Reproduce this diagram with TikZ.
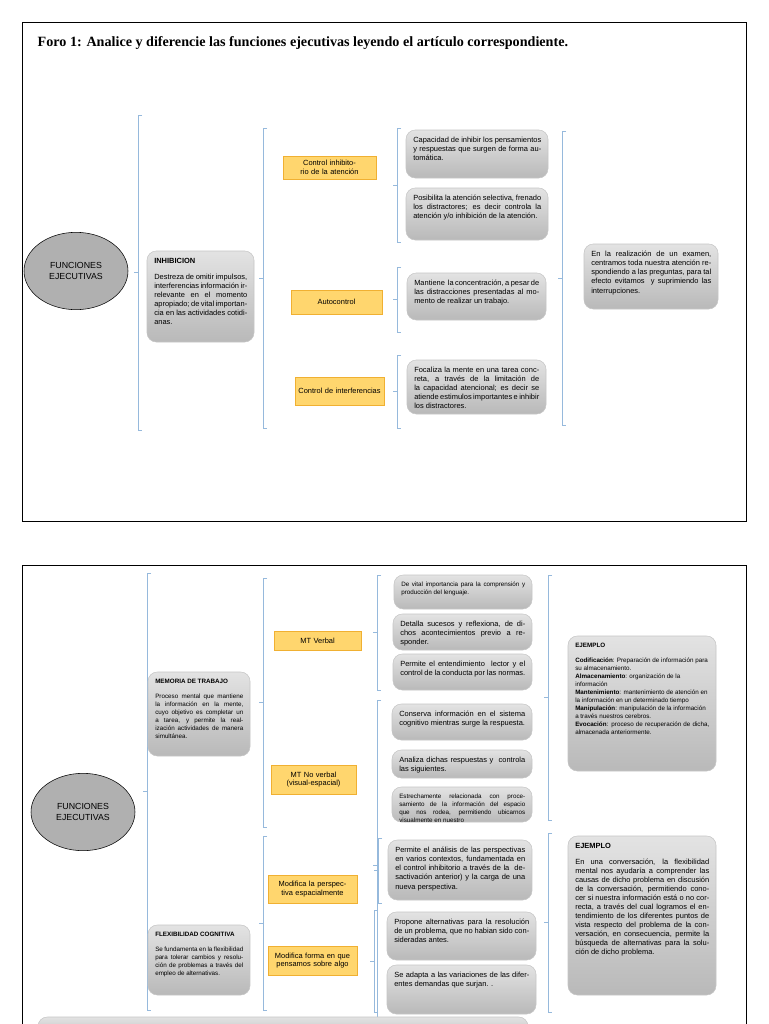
\documentclass[tikz,border=0pt]{standalone}
\usepackage{fontspec}
\setmainfont{Liberation Sans}
\newfontfamily\titlefont{Liberation Serif}
\usetikzlibrary{shapes.geometric}
\definecolor{ybox}{RGB}{255,214,110}
\definecolor{yedge}{RGB}{240,176,50}
\definecolor{brk}{RGB}{150,185,220}
\tikzset{
 gb/.style={draw=gray!45, top color=gray!22, bottom color=gray!55, rounded corners=7pt},
 yb/.style={draw=yedge, fill=ybox, align=center, inner sep=1pt, font=\fontsize{5.6}{6.6}\selectfont},
 tx/.style={anchor=north west, align=justify, inner sep=0pt, font=\fontsize{5.6}{6.8}\selectfont},
 txs/.style={anchor=north west, align=justify, inner sep=0pt, font=\fontsize{4.7}{6}\selectfont},
 ell/.style={ellipse, draw=black, fill=gray!62, minimum width=78pt, minimum height=58pt, align=center, font=\fontsize{6.6}{7.6}\selectfont},
 panel/.style={draw=black, line width=0.6pt},
 br/.style={draw=brk, line width=0.5pt}
}
\newcommand\mybrk[4]{% name, x, ytop, ybot
 \draw[br] ({#2+4},#3) -- (#2,#3) -- (#2,#4) -- ({#2+4},#4);
 \coordinate (#1) at (#2,{(#3+#4)/2});
 \draw[br] (#1) -- ++(-4,0);}
\newcommand\gbox[7]{% name, x1,y1,x2,y2, style, text
 \path[gb] (#2,#3) rectangle (#4,#5);
 \node[#6, text width={(#4-#2-14)*0.75pt}] (#1) at ({#2+7},{#3+7}) {#7};}
\newcommand\ybox[6]{% name,x1,y1,x2,y2,text
 \node[yb, minimum width={(#4-#2)*0.75pt}, minimum height={(#5-#3)*0.75pt}, text width={(#4-#2-6)*0.75pt}] (#1) at ({(#2+#4)/2},{(#3+#5)/2}) {#6};}
\begin{document}
\begin{tikzpicture}[x=0.75pt,y=-0.75pt]
\useasboundingbox[fill=white] (0,0) rectangle (768,1024);
% ===== Panel 1
\draw[panel] (22,22) rectangle (746,521);
\node[anchor=west, font=\titlefont\bfseries\fontsize{10.6}{12}\selectfont] (title) at (33,43) {Foro 1: Analice y diferencie las funciones ejecutivas leyendo el artículo correspondiente.};
\node[ell] (fe1) at (76,271) {FUNCIONES\\EJECUTIVAS};
\mybrk{b1}{138}{115}{430}
\gbox{inh}{147}{251}{254}{342}{tx}{\textbf{INHIBICION}\\[5pt]Destreza de omitir impulsos, interferencias información irrelevante en el momento apropiado; de vital importancia en las actividades cotidianas.}
\mybrk{b2}{263}{128}{428}
\ybox{ci}{283}{156}{376}{179}{Control inhibitorio de la atención}
\ybox{ac}{291}{290}{382}{314}{Autocontrol}
\ybox{cint}{295}{377}{384}{405}{Control de interferencias}
\mybrk{b3}{397}{128}{242}
\gbox{g1}{406}{130}{548}{178}{tx}{Capacidad de inhibir los pensamientos y respuestas que surgen de forma automática.}
\gbox{g2}{406}{188}{548}{240}{tx}{Posibilita la atención selectiva, frenado los distractores; es decir controla la atención y/o inhibición de la atención.}
\mybrk{b4}{397}{267}{332}
\gbox{g3}{407}{273}{546}{320}{tx}{Mantiene \ la concentración, a pesar de las distracciones presentadas al momento de realizar un trabajo.}
\mybrk{b5}{397}{355}{428}
\gbox{g4}{407}{360}{546}{414}{tx}{Focaliza la mente en una tarea concreta, a través de la limitación de la capacidad atencional; es decir se atiende estimulos importantes e inhibir los distractores.}
\mybrk{b6}{562}{131}{425}
\gbox{ej0}{584}{244}{718}{309}{tx}{\raggedright En la realización de un examen, centramos toda nuestra atención respondiendo a las preguntas, para tal efecto evitamos \ y suprimiendo las interrupciones.}
% ===== Panel 2
\draw[panel] (22,1030) -- (22,565) -- (746,565) -- (746,1030);
\node[ell] (fe2) at (83,812) {FUNCIONES\\EJECUTIVAS};
\mybrk{c1}{147}{573}{1010}
\gbox{mem}{148}{672}{250}{756}{txs}{\textbf{MEMORIA DE TRABAJO}\\[5pt]Proceso mental que mantiene la información en la mente, cuyo objetivo es completar un a tarea, y permite la realización actividades de manera simultánea.}
\gbox{flex}{148}{925}{250}{995}{txs}{\textbf{FLEXIBILIDAD COGNITIVA}\\[5pt]Se fundamenta en la flexibilidad para tolerar cambios y resolución de problemas a través del empleo de alternativas.}
\mybrk{c2}{263}{578}{827}
\mybrk{c3}{263}{836}{1010}
\ybox{mtv}{274}{631}{361}{650}{MT Verbal}
\ybox{mtn}{271}{765}{356}{794}{MT No verbal\\(visual-espacial)}
\ybox{mp}{268}{875}{357}{903}{Modifica la perspectiva espacialmente}
\ybox{mf}{268}{946}{357}{975}{Modifica forma en que pensamos sobre algo}
\mybrk{c4}{377}{575}{690}
\gbox{h1}{394}{575}{532}{609}{txs}{De vital importancia para la comprensión y producción del lenguaje.}
\gbox{h2}{393}{614}{532}{650}{tx}{Detalla sucesos y reflexiona, de dichos acontecimientos previo a responder.}
\gbox{h3}{393}{654}{532}{690}{tx}{Permite el entendimiento \ lector y el control de la conducta por las normas.}
\mybrk{c5}{377}{700}{1030}
\gbox{h4}{392}{704}{532}{740}{tx}{Conserva información en el sistema cognitivo mientras surge la respuesta.}
\gbox{h5}{392}{750}{532}{778}{tx}{Analiza dichas respuestas y \ controla las siguientes.}
\gbox{h6}{392}{787}{532}{822}{txs}{\raggedright Estrechamente relacionada con procesamiento de la información del espacio que nos rodea, permitiendo ubicarnos visualmente en nuestro}
\mybrk{c6}{378}{838}{903}
\gbox{h7}{388}{840}{532}{900}{tx}{\raggedright Permite el análisis de las perspectivas en varios contextos, fundamentada en el control inhibitorio a través de la \ desactivación anterior) y la carga de una nueva perspectiva.}
\mybrk{c7}{374}{910}{1012}
\gbox{h8}{387}{912}{536}{960}{tx}{\raggedright Propone alternativas para la resolución de un problema, que no habian sido consideradas antes.}
\gbox{h9}{387}{965}{536}{1014}{tx}{Se adapta a las variaciones de las diferentes demandas que surjan. .}
\mybrk{c8}{548}{575}{820}
\gbox{ej1}{568}{636}{716}{771}{txs}{\raggedright\textbf{EJEMPLO}\\[5pt]\textbf{Codificación}: Preparación de información para su almacenamiento.\\\textbf{Almacenamiento}: organización de la información\\\textbf{Mantenimiento}: mantenimiento de atención en la información en un determinado tiempo\\\textbf{Manipulación}: manipulación de la información a través nuestros cerebros.\\\textbf{Evocación}: proceso de recuperación de dicha, almacenada anteriormente.}
\mybrk{c9}{548}{833}{1012}
\gbox{ej2}{568}{836}{716}{995}{tx}{\textbf{EJEMPLO}\\[5pt]En una conversación, la flexibilidad mental nos ayudaría a comprender las causas de dicho problema en discusión de la conversación, permitiendo conocer si nuestra información está o no correcta, a través del cual logramos el entendimiento de los diferentes puntos de vista respecto del problema de la conversación, en consecuencia, permite la búsqueda de alternativas para la solución de dicho problema.}
\path[gb] (38,1017) rectangle (528,1040);
\end{tikzpicture}
\end{document}
